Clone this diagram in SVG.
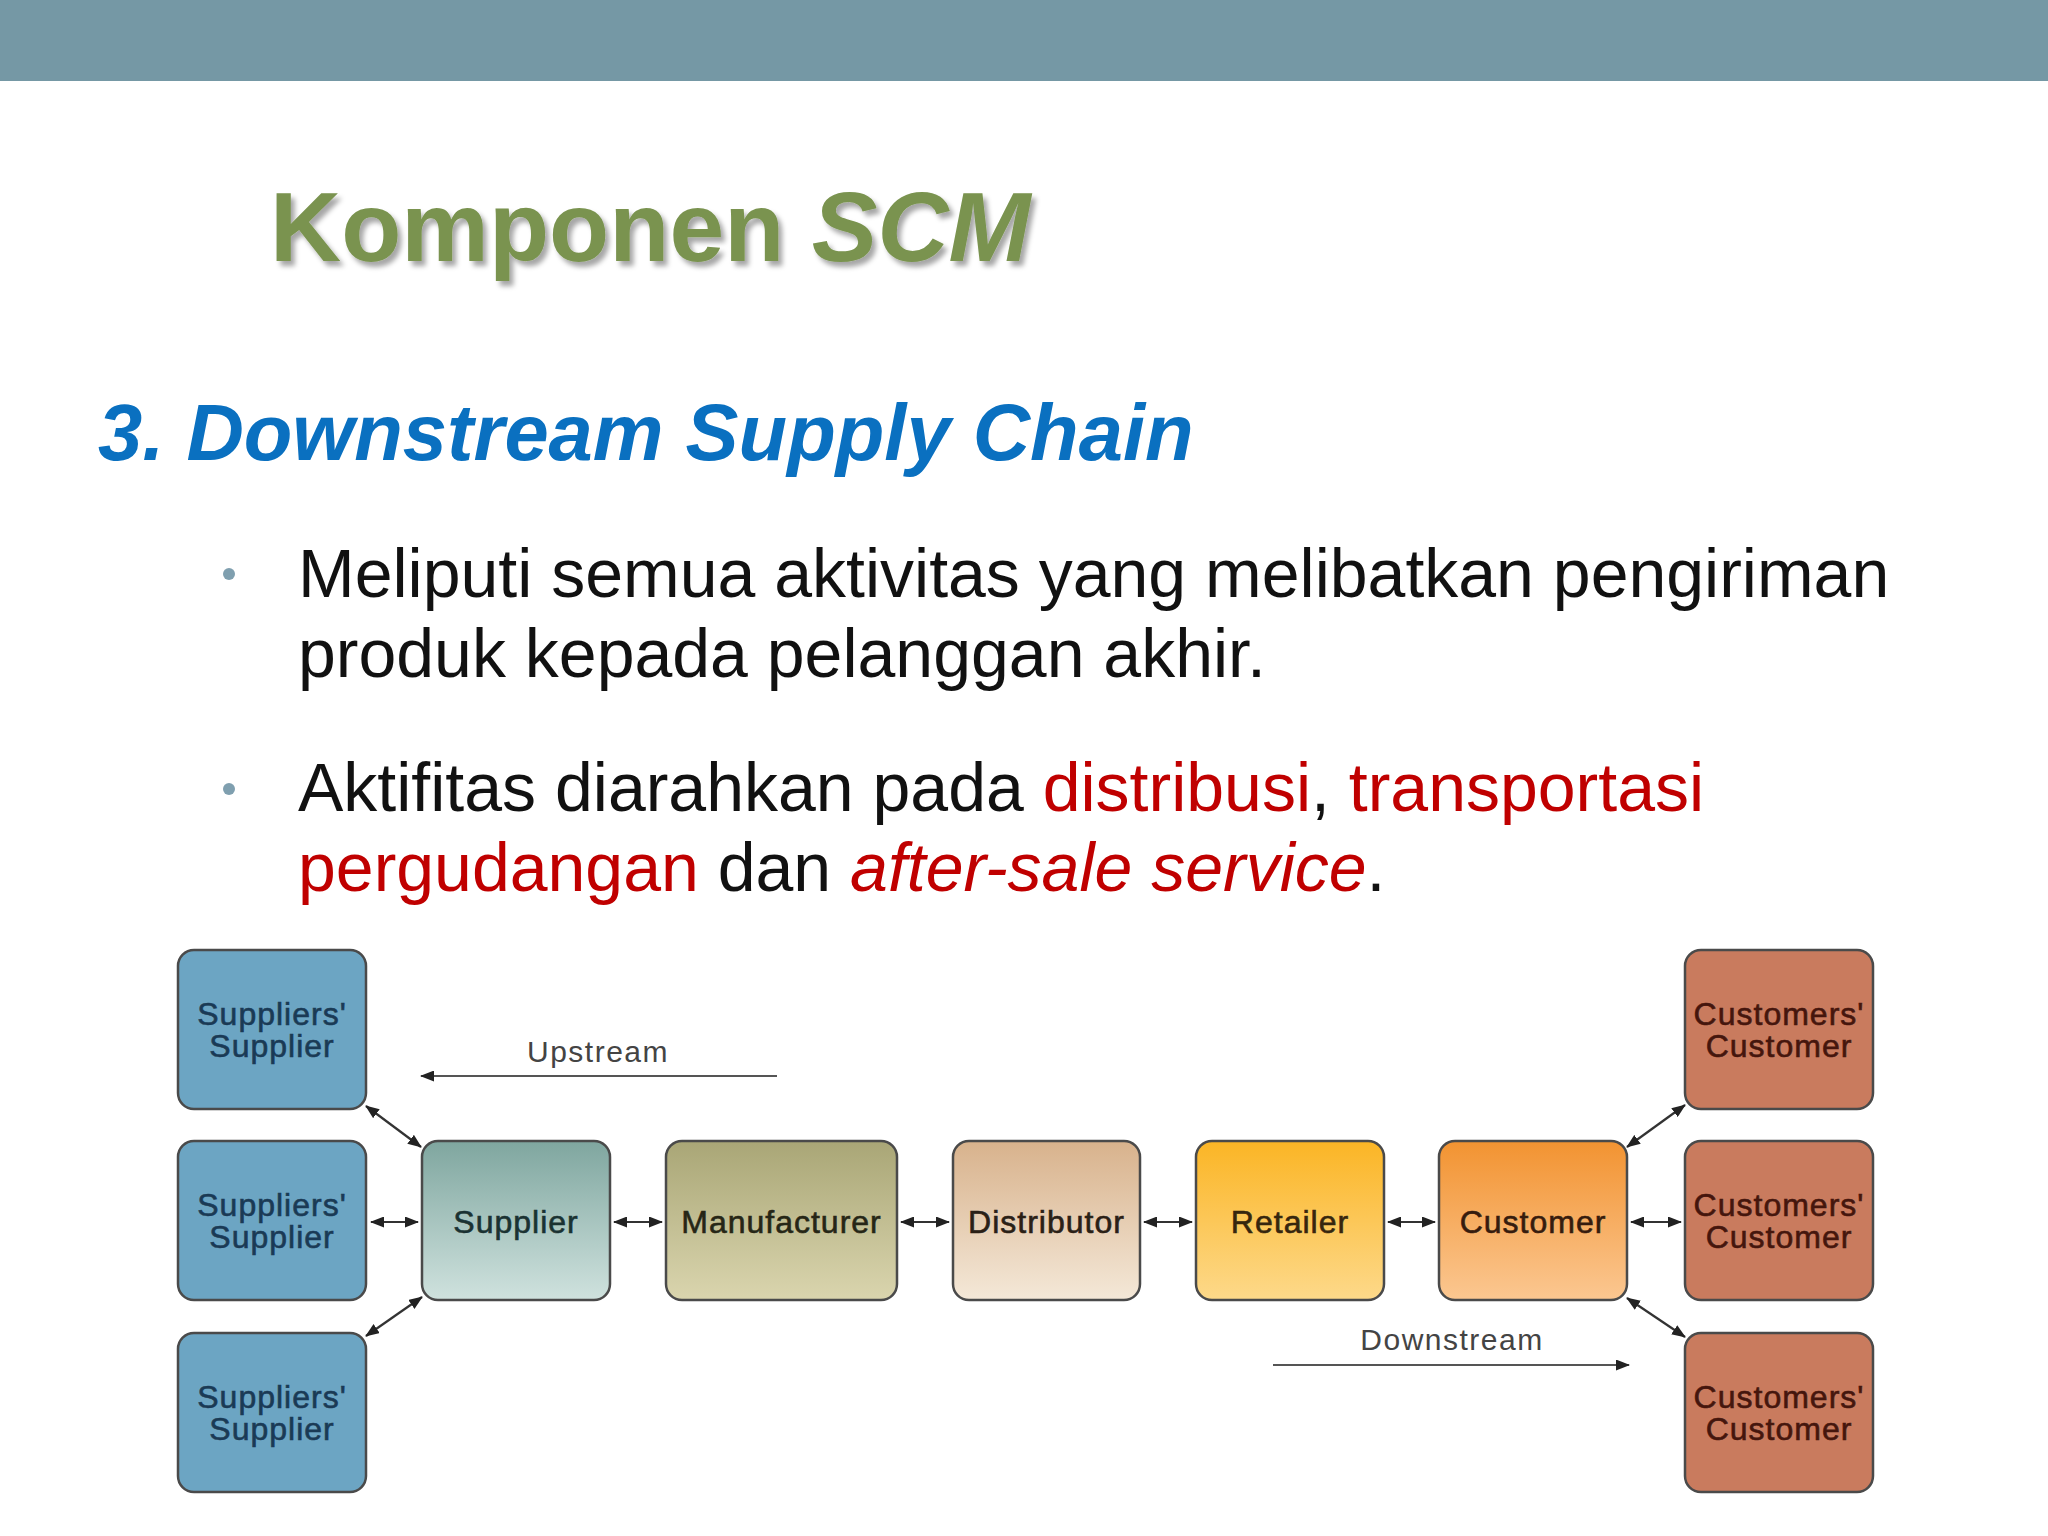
<svg xmlns="http://www.w3.org/2000/svg" width="2048" height="1536" viewBox="0 0 2048 1536">
<defs>
<style>
.t{font-family:"Liberation Sans",Arial,sans-serif}
.body{font-family:"Liberation Sans",Arial,sans-serif;font-size:68px;fill:#111}
.red{fill:#C00000}
.box{stroke:#4a4a4a;stroke-width:2.5}
.lbl{font-family:"Liberation Sans",Arial,sans-serif;font-size:32px;letter-spacing:1px;text-anchor:middle;stroke-width:0.6}
.con{stroke:#333;stroke-width:2.2;fill:none}
.flow{stroke:#555;stroke-width:2;fill:none}
</style>
<marker id="ah" viewBox="0 0 14 11" refX="13" refY="5.5" markerWidth="14" markerHeight="11" markerUnits="userSpaceOnUse" orient="auto-start-reverse">
<path d="M0,0 L14,5.5 L0,11 z" fill="#222"/>
</marker>
<filter id="sh" x="-5%" y="-20%" width="115%" height="150%">
<feDropShadow dx="4" dy="5" stdDeviation="2.5" flood-color="#000" flood-opacity="0.35"/>
</filter>
<linearGradient id="gSup" x1="0" y1="0" x2="0" y2="1"><stop offset="0" stop-color="#7FA69F"/><stop offset="1" stop-color="#CFE2DE"/></linearGradient>
<linearGradient id="gMan" x1="0" y1="0" x2="0" y2="1"><stop offset="0" stop-color="#A9A676"/><stop offset="1" stop-color="#DAD5AE"/></linearGradient>
<linearGradient id="gDis" x1="0" y1="0" x2="0" y2="1"><stop offset="0" stop-color="#D8B28C"/><stop offset="1" stop-color="#F4E8D8"/></linearGradient>
<linearGradient id="gRet" x1="0" y1="0" x2="0" y2="1"><stop offset="0" stop-color="#FBB525"/><stop offset="1" stop-color="#FDD98A"/></linearGradient>
<linearGradient id="gCus" x1="0" y1="0" x2="0" y2="1"><stop offset="0" stop-color="#F29331"/><stop offset="1" stop-color="#FBC791"/></linearGradient>
</defs>

<rect x="0" y="0" width="2048" height="1536" fill="#ffffff"/>
<rect x="0" y="0" width="2048" height="81" fill="#7598A5"/>

<g id="title">
<text class="t" x="270" y="261" font-size="98.5" font-weight="bold" fill="#7A9350" filter="url(#sh)">Komponen <tspan font-style="italic">SCM</tspan></text>
</g>

<g id="subtitle">
<text class="t" x="98" y="460" font-size="79.5" font-weight="bold" font-style="italic" fill="#0A70C0">3. Downstream Supply Chain</text>
</g>

<g id="bullets">
<circle cx="229" cy="574" r="6" fill="#7F9FAF"/>
<text class="body" x="298" y="597">Meliputi semua aktivitas yang melibatkan pengiriman</text>
<text class="body" x="298" y="677">produk kepada pelanggan akhir.</text>
<circle cx="229" cy="789" r="6" fill="#7F9FAF"/>
<text class="body" x="298" y="811">Aktifitas diarahkan pada <tspan class="red">distribusi</tspan>, <tspan class="red">transportasi</tspan></text>
<text class="body" x="298" y="891"><tspan class="red">pergudangan</tspan> dan <tspan class="red" font-style="italic">after-sale service</tspan>.</text>
</g>

<g id="ss1"><rect class="box" x="178" y="950" width="188" height="159" rx="16" fill="#6CA5C3"/>
<text class="lbl" fill="#1A3A55" stroke="#1A3A55"><tspan x="272" y="1025">Suppliers'</tspan><tspan x="272" y="1057">Supplier</tspan></text></g>
<g id="ss2"><rect class="box" x="178" y="1141" width="188" height="159" rx="16" fill="#6CA5C3"/>
<text class="lbl" fill="#1A3A55" stroke="#1A3A55"><tspan x="272" y="1216">Suppliers'</tspan><tspan x="272" y="1248">Supplier</tspan></text></g>
<g id="ss3"><rect class="box" x="178" y="1333" width="188" height="159" rx="16" fill="#6CA5C3"/>
<text class="lbl" fill="#1A3A55" stroke="#1A3A55"><tspan x="272" y="1408">Suppliers'</tspan><tspan x="272" y="1440">Supplier</tspan></text></g>

<g id="supplier"><rect class="box" x="422" y="1141" width="188" height="159" rx="16" fill="url(#gSup)"/>
<text class="lbl" x="516" y="1233" fill="#1A3232" stroke="#1A3232">Supplier</text></g>
<g id="manufacturer"><rect class="box" x="666" y="1141" width="231" height="159" rx="16" fill="url(#gMan)"/>
<text class="lbl" x="781.5" y="1233" fill="#262616" stroke="#262616">Manufacturer</text></g>
<g id="distributor"><rect class="box" x="953" y="1141" width="187" height="159" rx="16" fill="url(#gDis)"/>
<text class="lbl" x="1046.5" y="1233" fill="#2A2016" stroke="#2A2016">Distributor</text></g>
<g id="retailer"><rect class="box" x="1196" y="1141" width="188" height="159" rx="16" fill="url(#gRet)"/>
<text class="lbl" x="1290" y="1233" fill="#36260E" stroke="#36260E">Retailer</text></g>
<g id="customer"><rect class="box" x="1439" y="1141" width="188" height="159" rx="16" fill="url(#gCus)"/>
<text class="lbl" x="1533" y="1233" fill="#361C0E" stroke="#361C0E">Customer</text></g>

<g id="cc1"><rect class="box" x="1685" y="950" width="188" height="159" rx="16" fill="#C97B5E"/>
<text class="lbl" fill="#45160D" stroke="#45160D"><tspan x="1779" y="1025">Customers'</tspan><tspan x="1779" y="1057">Customer</tspan></text></g>
<g id="cc2"><rect class="box" x="1685" y="1141" width="188" height="159" rx="16" fill="#C97B5E"/>
<text class="lbl" fill="#45160D" stroke="#45160D"><tspan x="1779" y="1216">Customers'</tspan><tspan x="1779" y="1248">Customer</tspan></text></g>
<g id="cc3"><rect class="box" x="1685" y="1333" width="188" height="159" rx="16" fill="#C97B5E"/>
<text class="lbl" fill="#45160D" stroke="#45160D"><tspan x="1779" y="1408">Customers'</tspan><tspan x="1779" y="1440">Customer</tspan></text></g>

<g id="flow-labels">
<text class="t" x="598" y="1062" font-size="30" letter-spacing="1.5" text-anchor="middle" fill="#444">Upstream</text>
<text class="t" x="1452" y="1350" font-size="30" letter-spacing="1.5" text-anchor="middle" fill="#444">Downstream</text>
</g>

<g id="connectors">
<line class="flow" x1="777" y1="1076" x2="421" y2="1076" marker-end="url(#ah)"/>
<line class="flow" x1="1273" y1="1365" x2="1629" y2="1365" marker-end="url(#ah)"/>
<line class="con" x1="371" y1="1222" x2="418" y2="1222" marker-start="url(#ah)" marker-end="url(#ah)"/>
<line class="con" x1="614" y1="1222" x2="662" y2="1222" marker-start="url(#ah)" marker-end="url(#ah)"/>
<line class="con" x1="901" y1="1222" x2="949" y2="1222" marker-start="url(#ah)" marker-end="url(#ah)"/>
<line class="con" x1="1144" y1="1222" x2="1192" y2="1222" marker-start="url(#ah)" marker-end="url(#ah)"/>
<line class="con" x1="1388" y1="1222" x2="1435" y2="1222" marker-start="url(#ah)" marker-end="url(#ah)"/>
<line class="con" x1="1631" y1="1222" x2="1681" y2="1222" marker-start="url(#ah)" marker-end="url(#ah)"/>
<line class="con" x1="366" y1="1106" x2="421" y2="1147" marker-start="url(#ah)" marker-end="url(#ah)"/>
<line class="con" x1="366" y1="1336" x2="422" y2="1297" marker-start="url(#ah)" marker-end="url(#ah)"/>
<line class="con" x1="1627" y1="1147" x2="1685" y2="1105" marker-start="url(#ah)" marker-end="url(#ah)"/>
<line class="con" x1="1627" y1="1298" x2="1685" y2="1337" marker-start="url(#ah)" marker-end="url(#ah)"/>
</g>
</svg>
